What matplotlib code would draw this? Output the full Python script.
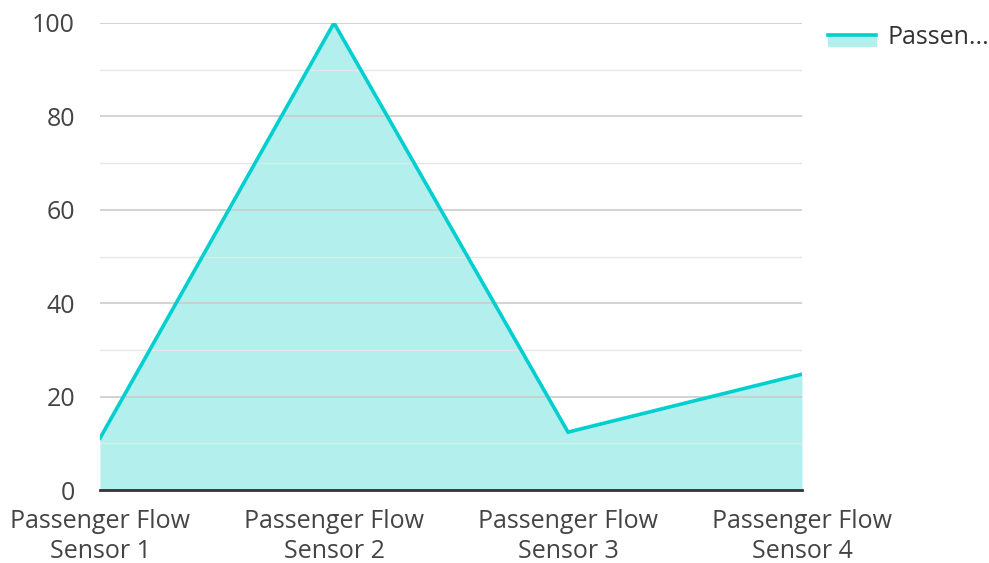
import matplotlib
matplotlib.use("Agg")
import matplotlib.pyplot as plt
from matplotlib.patches import Rectangle
from matplotlib.lines import Line2D

categories = ["Passenger Flow\nSensor 1", "Passenger Flow\nSensor 2",
              "Passenger Flow\nSensor 3", "Passenger Flow\nSensor 4"]
values = [11.1, 100, 12.4, 24.8]
y_ticks = [0, 20, 40, 60, 80, 100]
minor_ticks = [10, 30, 50, 70, 90]
series_name = "Passen..."

line_color = "#00cfcf"
fill_color = "#b2efed"
font_size = 18

plt.rcParams["font.family"] = ["Open Sans", "DejaVu Sans"]

fig = plt.figure(figsize=(9.89, 5.63), dpi=100)
ax = fig.add_axes([100 / 989, 73 / 563, 702 / 989, 467 / 563])

x = list(range(len(categories)))
ax.fill_between(x, values, 0, color=fill_color, linewidth=0, zorder=1)
ax.plot(x, values, color=line_color, linewidth=2.6, solid_joinstyle="miter", zorder=3)

ax.set_xlim(0, len(categories) - 1)
ax.set_ylim(0, 100)
ax.set_yticks(y_ticks)
ax.set_yticklabels([str(t) for t in y_ticks])
ax.set_xticks(x)
ax.set_xticklabels(categories)

for t in y_ticks[1:]:
    ax.axhline(t, color="#cccccc", linewidth=1.2, zorder=2)
for t in minor_ticks:
    ax.axhline(t, color="#e6e6e6", linewidth=1.0, zorder=2)

for side in ["top", "right", "left"]:
    ax.spines[side].set_visible(False)
ax.spines["bottom"].set_color("#333333")
ax.spines["bottom"].set_linewidth(2)
ax.spines["bottom"].set_zorder(4)

ax.tick_params(axis="both", length=0, labelsize=font_size, colors="#444444")
ax.tick_params(axis="y", pad=18)
ax.tick_params(axis="x", pad=14)
for lbl in ax.get_xticklabels():
    lbl.set_linespacing(1.25)

# legend entry
fig.patches.append(Rectangle((828 / 989, 1 - 46 / 563), 48 / 989, 10 / 563,
                             transform=fig.transFigure, color=fill_color, zorder=1))
fig.lines.append(Line2D([828 / 989, 876 / 989], [1 - 35 / 563, 1 - 35 / 563],
                        transform=fig.transFigure, color=line_color, linewidth=2.6))
fig.text(887 / 989, 1 - 37 / 563, series_name, fontsize=font_size, color="#333333",
         va="center", ha="left")

fig.savefig("out.png", dpi=100)
